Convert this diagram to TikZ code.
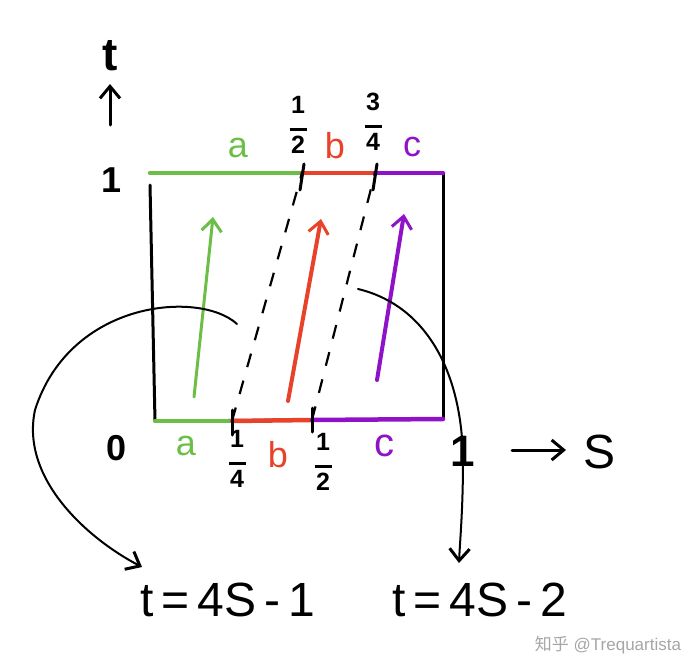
\documentclass[tikz,border=0pt]{standalone}
\usepackage{fontspec}
\setmainfont{Liberation Sans}
\newfontfamily\cjk{Noto Sans CJK SC}
\usetikzlibrary{arrows.meta}
\definecolor{cgreen}{RGB}{108,190,70}
\definecolor{cred}{RGB}{232,67,42}
\definecolor{cpurple}{RGB}{144,18,200}
\newcommand\hfrac[2]{\begin{tabular}{@{}c@{}}#1\\[-7pt]\rule{17pt}{2.8pt}\\[-3pt]#2\end{tabular}}
\tikzset{
  ink/.style={line width=3pt, line cap=round, line join=round},
  seg/.style={line width=4.5pt, line cap=round},
  dsh/.style={line width=2.2pt, dash pattern=on 14pt off 14pt},
  barb/.style={-{Straight Barb[length=12pt,width=20pt,line width=3pt]}},
  lbl/.style={inner sep=0pt, font=\fontsize{36}{40}\selectfont},
  frc/.style={inner sep=0pt, font=\fontsize{25}{25}\selectfont\bfseries},
  big/.style={inner sep=0pt, font=\fontsize{48}{52}\selectfont},
}
\begin{document}
\begin{tikzpicture}[x=1pt,y=-1pt]
\useasboundingbox (0,0) rectangle (691,672);
% corners
\coordinate (tl) at (150,173);
\coordinate (tm1) at (302,173);
\coordinate (tm2) at (375,173);
\coordinate (tr) at (443,173);
\coordinate (bl) at (155,421);
\coordinate (bm1) at (232,421);
\coordinate (bm2) at (312,420);
\coordinate (br) at (443,419);
% box
\draw[ink] (150,185) -- (155,421);
\draw[ink] (443,173) -- (443,419);
\draw[ink] (tl) -- (tr);
\draw[ink] (bl) -- (br);
% colored segments
\draw[seg,cgreen] (tl) -- (tm1);
\draw[seg,cred] (tm1) -- (tm2);
\draw[seg,cpurple] (tm2) -- (tr);
\draw[seg,cgreen] (bl) -- (bm1);
\draw[seg,cred] (bm1) -- (bm2);
\draw[seg,cpurple] (bm2) -- (br);
% ticks
\draw[ink] (304,164) -- (300,190);
\draw[ink] (377,164) -- (373,190);
\draw[ink] (232,410) -- (232,435);
\draw[ink] (312,408) -- (312,432);
% dashed
\draw[dsh] (bm1) -- (tm1);
\draw[dsh] (bm2) -- (tm2);
% flow arrows
\coordinate (ga) at (194,397); \coordinate (gb) at (213,217);
\coordinate (ra) at (288,401); \coordinate (rb) at (321,219);
\coordinate (pa) at (377,380); \coordinate (pb) at (404,214);
\draw[ink,cgreen,barb,line width=3pt] (ga) -- (gb);
\draw[ink,cred,barb,line width=4pt] (ra) -- (rb);
\draw[ink,cpurple,barb,line width=4pt] (pa) -- (pb);
% t axis
\node[lbl,font=\fontsize{46}{50}\selectfont\bfseries] (t) at (110,56) {t};
\coordinate (ta) at (110,125);
\coordinate (tb) at (110,84);
\draw[ink,barb] (ta) -- (tb);
% labels
\node[lbl,font=\fontsize{36}{40}\selectfont\bfseries] (one) at (112,180) {1};
\node[lbl,font=\fontsize{36}{40}\selectfont\bfseries] (zero) at (117,448) {0};
\node[lbl,text=cgreen] (atop) at (238,148) {a};
\node[frc] (half) at (298,128) {\hfrac{1}{2}};
\node[lbl,text=cred] (btop) at (335,146) {b};
\node[frc] (tq) at (373,125) {\hfrac{3}{4}};
\node[lbl,text=cpurple] (ctop) at (412,147) {c};
\node[lbl,text=cgreen] (abot) at (186,446) {a};
\node[frc] (qt) at (237,462) {\hfrac{1}{4}};
\node[lbl,text=cred] (bbot) at (278,455) {b};
\node[frc] (halfb) at (323,465) {\hfrac{1}{2}};
\node[lbl,text=cpurple,font=\fontsize{40}{44}\selectfont] (cbot) at (384,446) {c};
\node[lbl,font=\fontsize{44}{48}\selectfont\bfseries] (oner) at (463,451) {1};
\node[lbl,font=\fontsize{48}{52}\selectfont] (S) at (600,452) {S};
\coordinate (sa) at (512,450);
\coordinate (sb) at (566,450);
\draw[ink,barb] (sa) -- (sb);
% formulas
\node[big] (f1) at (228,600) {t\,=\,4S\,-\,1};
\node[big] (f2) at (480,600) {t\,=\,4S\,-\,2};
% curved arrows
\coordinate (c1s) at (237,324);
\coordinate (c1e) at (142,567);
\draw[line width=2pt,line cap=round,barb] (c1s) .. controls (200,290) and (70,300) .. (35,410) .. controls (20,480) and (90,540) .. (c1e);
\coordinate (c2s) at (358,289);
\coordinate (c2e) at (459,563);
\draw[line width=2pt,line cap=round,barb] (c2s) .. controls (425,305) and (462,370) .. (463,460) .. controls (463,510) and (460,540) .. (c2e);
% watermark
\node[inner sep=0pt,text=black!35,font=\fontsize{17}{20}\selectfont] (wm) at (608,645) {{\cjk 知乎} @Trequartista};
\end{tikzpicture}
\end{document}
